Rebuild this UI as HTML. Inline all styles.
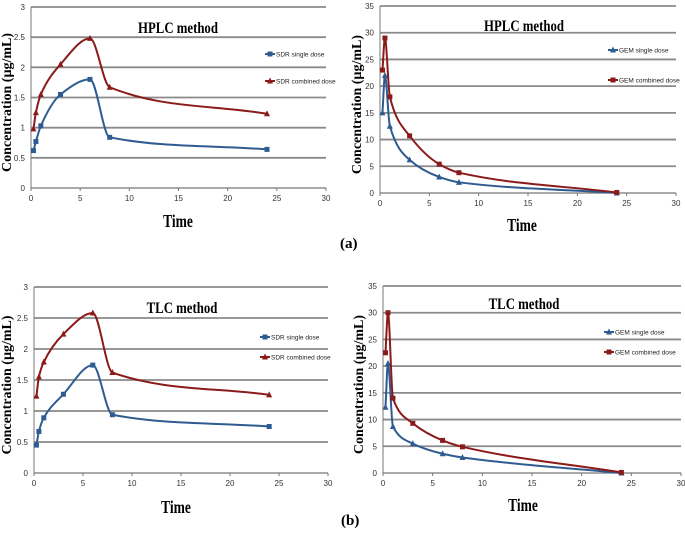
<!DOCTYPE html>
<html><head><meta charset="utf-8">
<style>
body{margin:0;background:#fff;width:685px;height:535px;overflow:hidden;font-family:"Liberation Serif",serif}
svg{position:absolute;left:0;top:0}
</style></head>
<body>
<svg id="fig" width="685" height="535"></svg>
<script>
const times = [0.25, 0.5, 1, 3, 6, 8, 24];
const xTicks = [0, 5, 10, 15, 20, 25, 30];
const sdrTicks = [0, 0.5, 1, 1.5, 2, 2.5, 3];
const gemTicks = [0, 5, 10, 15, 20, 25, 30, 35];
const hplcSdrSingle = [0.62, 0.77, 1.03, 1.55, 1.8, 0.84, 0.64];
const hplcSdrCombined = [0.98, 1.25, 1.55, 2.05, 2.48, 1.67, 1.23];
const hplcGemSingle = [15, 22, 12.5, 6.2, 3, 2, 0];
const hplcGemCombined = [23, 29, 18, 10.7, 5.4, 3.8, 0.1];
const tlcSdrSingle = [0.45, 0.67, 0.89, 1.27, 1.74, 0.94, 0.75];
const tlcSdrCombined = [1.24, 1.55, 1.79, 2.24, 2.58, 1.62, 1.26];
const tlcGemSingle = [12.3, 20.5, 8.7, 5.5, 3.6, 2.9, 0];
const tlcGemCombined = [22.5, 30, 14, 9.3, 6.1, 4.9, 0.1];

const NS = "http://www.w3.org/2000/svg";
const svg = document.getElementById('fig');
function el(tag, attrs, parent, text){
  const e = document.createElementNS(NS, tag);
  for (const k in attrs) e.setAttribute(k, attrs[k]);
  if (text !== undefined) e.textContent = text;
  (parent || svg).appendChild(e);
  return e;
}
const BLUE = "#2e5c92", RED = "#8b1a1a";

function smoothPath(pts){
  const n = pts.length, dx = [], sl = [], m = [];
  for (let i = 0; i < n - 1; i++){ dx[i] = pts[i+1][0] - pts[i][0]; sl[i] = (pts[i+1][1] - pts[i][1]) / dx[i]; }
  m[0] = sl[0]; m[n-1] = sl[n-2];
  for (let i = 1; i < n - 1; i++){
    if (sl[i-1] * sl[i] <= 0) m[i] = 0;
    else { const w1 = 2*dx[i] + dx[i-1], w2 = dx[i] + 2*dx[i-1]; m[i] = (w1 + w2) / (w1/sl[i-1] + w2/sl[i]); }
  }
  let d = `M${pts[0][0]},${pts[0][1]}`;
  for (let i = 0; i < n - 1; i++){
    const h = dx[i] / 3;
    d += ` C${pts[i][0] + h},${pts[i][1] + m[i]*h} ${pts[i+1][0] - h},${pts[i+1][1] - m[i+1]*h} ${pts[i+1][0]},${pts[i+1][1]}`;
  }
  return d;
}

function panel(p){
  const g = el('g', {});
  
  
  const xs = v => p.x0 + (v / 30) * (p.x1 - p.x0);
  const ys = v => p.y0 - (v / p.ymax) * (p.y0 - p.y1);
  p.yTicks.forEach(t => {
    if (t > 0) {
      const l = el('line', {x1: p.x0, x2: p.x1, y1: ys(t), y2: ys(t), stroke: "#8a8a8a", 'stroke-width': 1.8}, g);
      
      
    }
    const tl = el('text', {x: p.x0 - 6, y: ys(t) + 3, 'font-size': 8, 'text-anchor': 'end', fill: '#333', 'font-family': 'Liberation Sans Narrow, Liberation Sans, sans-serif'}, g, t);
    
    
  });
  el('line', {x1: p.x0, x2: p.x0, y1: p.y1, y2: p.y0, stroke: "#777", 'stroke-width': 1}, g);
  el('line', {x1: p.x0, x2: p.x1, y1: p.y0, y2: p.y0, stroke: "#777", 'stroke-width': 1.2}, g);
  xTicks.forEach(t => {
    el('line', {x1: xs(t), x2: xs(t), y1: p.y0, y2: p.y0 + 3, stroke: "#777"}, g);
    const tl = el('text', {x: xs(t), y: p.y0 + 13, 'font-size': 8, 'text-anchor': 'middle', fill: '#333', 'font-family': 'Liberation Sans Narrow, Liberation Sans, sans-serif'}, g, t);
    
    
  });
  const tt = el('text', {x: p.tx, y: p.ty, 'font-size': 16, 'font-weight': 'bold', 'text-anchor': 'middle', transform: `scale(0.8,1)`, 'transform-origin': `${p.tx} ${p.ty}`}, g, p.title);
  
  
  const xt = el('text', {x: p.xtx, y: p.xty, 'font-size': 18, 'font-weight': 'bold', 'text-anchor': 'middle', transform: 'scale(0.75,1)', 'transform-origin': `${p.xtx} ${p.xty}`}, g, 'Time');
  
  
  const yc = (p.y0 + p.y1) / 2 + 5;
  const yt = el('text', {x: p.ytx, y: yc, 'font-size': 14, 'font-weight': 'bold', 'text-anchor': 'middle', transform: `rotate(-90 ${p.ytx} ${yc})`}, g, 'Concentration (µg/mL)');
  
  

  p.series.forEach(s => {
    const pts = times.map((t, i) => [xs(t), ys(s.vals[i])]);
    const path = el('path', {d: smoothPath(pts), fill: 'none', stroke: s.color, 'stroke-width': 2}, g);
    
    
    pts.forEach(pt => {
      let m;
      if (s.marker === 'sq') m = el('rect', {x: pt[0] - 2.5, y: pt[1] - 2.5, width: 5, height: 5, fill: s.color}, g);
      else m = el('polygon', {points: `${pt[0]},${pt[1] - 3.5} ${pt[0] - 3},${pt[1] + 2.5} ${pt[0] + 3},${pt[1] + 2.5}`, fill: s.color}, g);
      
      
    });
    const lg = el('g', {}, g);
    
    
    el('line', {x1: s.lx, x2: s.lx + 10, y1: s.ly, y2: s.ly, stroke: s.color, 'stroke-width': 2}, lg);
    if (s.marker === 'sq') el('rect', {x: s.lx + 2.5, y: s.ly - 2.5, width: 5, height: 5, fill: s.color}, lg);
    else el('polygon', {points: `${s.lx + 5},${s.ly - 3.5} ${s.lx + 2},${s.ly + 2.5} ${s.lx + 8},${s.ly + 2.5}`, fill: s.color}, lg);
    el('text', {x: s.lx + 11, y: s.ly + 2.5, 'font-size': 6.5, fill: '#222', 'font-family': 'Liberation Sans Narrow, Liberation Sans, sans-serif'}, lg, s.label);
  });
}

panel({name: 'hplc-sdr-chart', x0: 31, x1: 326, y0: 188, y1: 7, ymax: 3, yTicks: sdrTicks,
  title: 'HPLC method', tx: 178, ty: 33, xtx: 178, xty: 227, ytx: 11,
  series: [
    {key: 'sdr-single', vals: hplcSdrSingle, color: BLUE, marker: 'sq', label: 'SDR single dose', lx: 265, ly: 54},
    {key: 'sdr-combined', vals: hplcSdrCombined, color: RED, marker: 'tri', label: 'SDR combined dose', lx: 265, ly: 81}
  ]});
panel({name: 'hplc-gem-chart', x0: 380, x1: 676, y0: 193, y1: 6, ymax: 35, yTicks: gemTicks,
  title: 'HPLC method', tx: 524, ty: 31, xtx: 522, xty: 231, ytx: 361,
  series: [
    {key: 'gem-single', vals: hplcGemSingle, color: BLUE, marker: 'tri', label: 'GEM single dose', lx: 608, ly: 50},
    {key: 'gem-combined', vals: hplcGemCombined, color: RED, marker: 'sq', label: 'GEM combined dose', lx: 608, ly: 80}
  ]});
panel({name: 'tlc-sdr-chart', x0: 34, x1: 328, y0: 473, y1: 287, ymax: 3, yTicks: sdrTicks,
  title: 'TLC method', tx: 182, ty: 313, xtx: 176, xty: 513, ytx: 11,
  series: [
    {key: 'sdr-single', vals: tlcSdrSingle, color: BLUE, marker: 'sq', label: 'SDR single dose', lx: 260, ly: 337},
    {key: 'sdr-combined', vals: tlcSdrCombined, color: RED, marker: 'tri', label: 'SDR combined dose', lx: 260, ly: 357}
  ]});
panel({name: 'tlc-gem-chart', x0: 383, x1: 681, y0: 473, y1: 286, ymax: 35, yTicks: gemTicks,
  title: 'TLC method', tx: 524, ty: 309, xtx: 523, xty: 511, ytx: 363,
  series: [
    {key: 'gem-single', vals: tlcGemSingle, color: BLUE, marker: 'tri', label: 'GEM single dose', lx: 604, ly: 332},
    {key: 'gem-combined', vals: tlcGemCombined, color: RED, marker: 'sq', label: 'GEM combined dose', lx: 604, ly: 352}
  ]});
const a = el('text', {x: 340, y: 248, 'font-size': 15, 'font-weight': 'bold'}, svg, '(a)');


const b = el('text', {x: 341, y: 525, 'font-size': 15, 'font-weight': 'bold'}, svg, '(b)');


</script>
</body></html>
